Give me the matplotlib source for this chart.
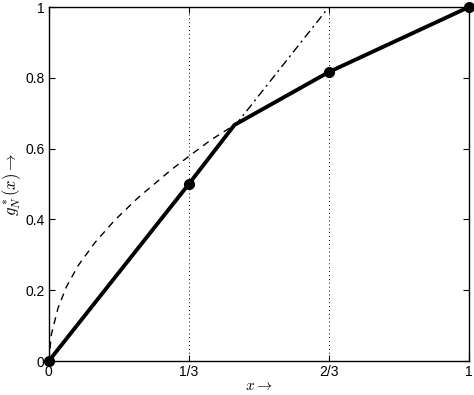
import matplotlib
matplotlib.use("Agg")
import matplotlib.pyplot as plt

plt.rcParams["font.family"] = ["Liberation Sans", "DejaVu Sans"]
plt.rcParams["mathtext.fontset"] = "cm"

# thick optimal curve
solid_x = [0, 1/3, 0.442, 2/3, 1]
solid_y = [0, 0.5, 0.667, 0.8165, 1]

# marked points on the curve
dot_x = [0, 1/3, 2/3, 1]
dot_y = [0, 0.5, 0.8165, 1]

# dashed curve
dash_x = [0, 0.006, 0.022, 0.042, 0.070, 0.110, 0.157, 0.213, 0.292, 0.333, 0.385, 0.442]
dash_y = [0, 0.075, 0.150, 0.210, 0.270, 0.335, 0.398, 0.462, 0.541, 0.578, 0.624, 0.667]

# dash-dot line
dd_x = [0, 2/3]
dd_y = [0, 1]

# dotted guides
guide_x = [1/3, 2/3]

xticks = [0, 1/3, 2/3, 1]
xtick_labels = ["0", "1/3", "2/3", "1"]
yticks = [0, 0.2, 0.4, 0.6, 0.8, 1]
ytick_labels = ["0", "0.2", "0.4", "0.6", "0.8", "1"]

fig = plt.figure(figsize=(4.74, 3.95), dpi=100)
ax = fig.add_axes([0.103, 0.086, 0.886, 0.896])

for gx in guide_x:
    ax.plot([gx, gx], [0, 1], color="black", linestyle=(0, (1, 3)), linewidth=0.7)

ax.plot(dd_x, dd_y, color="black", linestyle=(0, (6, 3, 1.5, 3)), linewidth=1.0)
ax.plot(dash_x, dash_y, color="black", linestyle=(0, (5, 4)), linewidth=1.0)
ax.plot(solid_x, solid_y, color="black", linewidth=2.8, solid_capstyle="round")
ax.plot(dot_x, dot_y, "o", color="black", markersize=7, clip_on=False, zorder=5)

ax.set_xlim(0, 1)
ax.set_ylim(0, 1)
ax.set_xticks(xticks)
ax.set_xticklabels(xtick_labels)
ax.set_yticks(yticks)
ax.set_yticklabels(ytick_labels)
ax.tick_params(direction="in", top=True, right=True, length=4, width=0.8, labelsize=10, pad=3)

for sp in ax.spines.values():
    sp.set_linewidth(1.0)

ax.set_xlabel(r"$x \rightarrow$", fontsize=11, labelpad=0)
ax.set_ylabel(r"$g_N^*(x) \rightarrow$", fontsize=12, labelpad=2)

plt.savefig("out.png", dpi=100)
plt.close()
